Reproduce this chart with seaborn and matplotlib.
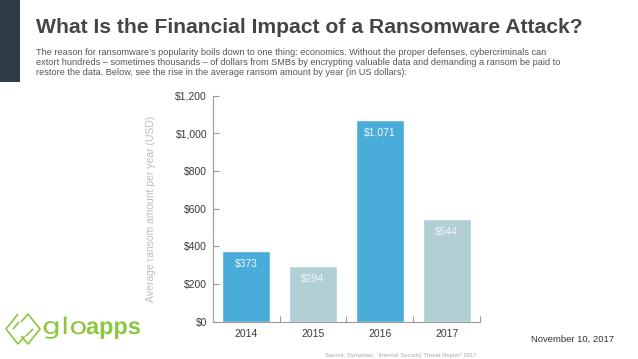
import matplotlib
matplotlib.use("Agg")
import matplotlib.pyplot as plt
import seaborn as sns
import pandas as pd
from matplotlib.lines import Line2D
from matplotlib.patches import Rectangle, PathPatch
from matplotlib.textpath import TextPath
from matplotlib.font_manager import FontProperties
from matplotlib.transforms import Affine2D
from matplotlib.ticker import FixedLocator, FuncFormatter

years = ["2014", "2015", "2016", "2017"]
ransom = [373, 294, 1071, 544]
bar_labels = ["$373", "$294", "$1,071", "$544"]
bar_colors = ["#4aadd9", "#b3cfd6", "#4aadd9", "#b3cfd6"]
y_ticks = [0, 200, 400, 600, 800, 1000, 1200]

title = "What Is the Financial Impact of a Ransomware Attack?"
subtitle = ("The reason for ransomware\u2019s popularity boils down to one thing: economics. Without the proper defenses, cybercriminals can\n"
            "extort hundreds \u2013 sometimes thousands \u2013 of dollars from SMBs by encrypting valuable data and demanding a ransom be paid to\n"
            "restore the data. Below, see the rise in the average ransom amount by year (in US dollars):")
y_label = "Average ransom amount per year (USD)"
date_text = "November 10, 2017"
source_text = "Source: Symantec, \u201cInternet Security Threat Report\u201d 2017"

sns.set_theme(style="white")
plt.rcParams['font.family'] = ['Liberation Sans', 'DejaVu Sans']

W, H = 638, 359
fig = plt.figure(figsize=(W / 100, H / 100), dpi=100)
fig.patch.set_facecolor("white")

def px(x, y):
    return x / W, 1 - y / H

# Axes placement
x0, x1 = 212.7, 480
yb, yt = 321.7, 95.7
ax = fig.add_axes([x0 / W, 1 - yb / H, (x1 - x0) / W, (yb - yt) / H])

df = pd.DataFrame({"year": years, "ransom": ransom})
sns.barplot(data=df, x="year", y="ransom", hue="year", palette=bar_colors,
            legend=False, width=0.72, ax=ax, saturation=1)

ax.set_xlim(-0.5, 3.5)
ax.set_ylim(0, 1200)
ax.yaxis.set_major_locator(FixedLocator(y_ticks))
ax.yaxis.set_major_formatter(FuncFormatter(lambda v, p: "${:,.0f}".format(v)))
ax.set_xlabel("")
ax.set_ylabel(y_label, fontsize=7.5, color="#bdbdbd", labelpad=14)

for s in ["top", "right"]:
    ax.spines[s].set_visible(False)
for s in ["left", "bottom"]:
    ax.spines[s].set_color("#9a9a9a")
    ax.spines[s].set_linewidth(0.8)

ax.tick_params(axis="y", labelsize=7.5, labelcolor="#3a3a3a", direction="in",
               length=4, width=0.8, color="#9a9a9a", pad=4, left=True)
ax.tick_params(axis="x", labelsize=7.5, labelcolor="#3a3a3a", length=0, pad=5)
ax.xaxis.set_minor_locator(FixedLocator([0.5, 1.5, 2.5, 3.5]))
ax.tick_params(axis="x", which="minor", direction="in", length=4, width=0.8,
               color="#9a9a9a", bottom=True)

for i, (v, lab) in enumerate(zip(ransom, bar_labels)):
    ax.annotate(lab, (i, v), xytext=(0, -9), textcoords="offset points",
                ha="center", va="center", fontsize=7.5, color="#eef6fa")

# Header block
fig.patches.append(Rectangle(px(0, 82), 20 / W, 82 / H, transform=fig.transFigure,
                             facecolor="#2f3b47", edgecolor="none"))
fig.text(*px(36, 33), title, fontsize=15.2, fontweight="bold", color="#454545",
         ha="left", va="baseline")
fig.text(*px(36, 62.5), subtitle, fontsize=6.6, color="#555555", ha="left", va="center",
         linespacing=1.15)

# Date and source
fig.text(*px(531, 339), date_text, fontsize=6.8, color="#333333", ha="left", va="center")
fig.text(*px(325, 355), source_text, fontsize=4.2, color="#a8a8a8", ha="left", va="center")

# Logo
green = "#8dc63f"
p_glo = TextPath((0, 0), "glo", size=23, prop=FontProperties(family="DejaVu Sans", weight="normal"))
fig.patches.append(PathPatch(p_glo, transform=Affine2D().scale(1.3, 1).translate(42, H - 334),
                             facecolor=green, edgecolor="none"))
p_apps = TextPath((0, 0), "apps", size=23.5, prop=FontProperties(family="Liberation Sans", weight="bold"))
fig.patches.append(PathPatch(p_apps, transform=Affine2D().translate(86, H - 334),
                             facecolor=green, edgecolor="none"))

def poly(pts):
    xs = [p[0] / W for p in pts]
    ys = [1 - p[1] / H for p in pts]
    fig.lines.append(Line2D(xs, ys, transform=fig.transFigure, color=green, lw=1.2,
                            solid_capstyle="butt"))
poly([(18, 314), (6, 329), (18, 344), (25, 336)])
poly([(21, 322), (28, 314), (40, 329), (28, 344), (21, 336)])
poly([(13, 329), (19, 322)])
poly([(33, 329), (26, 336)])

fig.savefig("out.png", dpi=100, facecolor="white")
